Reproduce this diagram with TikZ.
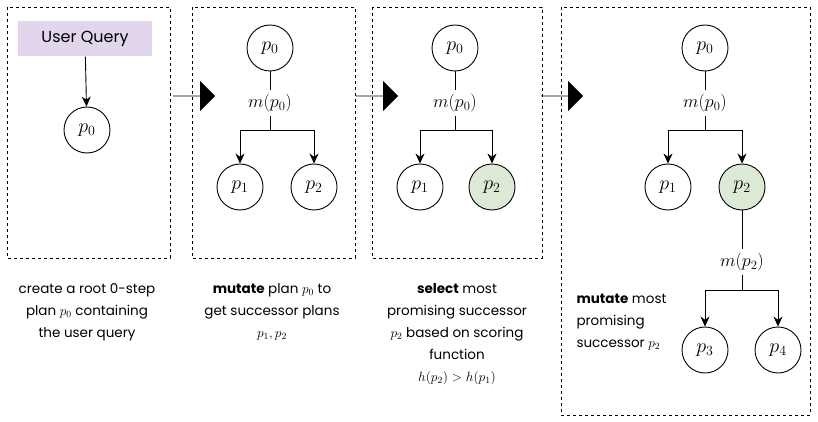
\documentclass[tikz,border=0pt]{standalone}
\usepackage{fix-cm}
\usepackage{fontspec}
\setmainfont{Poppins}
\usetikzlibrary{arrows.meta,shapes.arrows}
\begin{document}
\begin{tikzpicture}[x=1pt,y=-1pt,
  box/.style={draw,dashed,line width=0.8pt},
  pn/.style={circle,draw,line width=0.9pt,minimum size=46pt,inner sep=0pt,font=\fontsize{20}{24}\selectfont},
  arr/.style={-{Stealth[length=10pt,width=9pt]},line width=0.9pt},
  big/.style={single arrow,fill=black,minimum height=42pt,minimum width=30pt,single arrow head extend=8pt,inner sep=0pt},
  lab/.style={font=\fontsize{18}{22}\selectfont},
  txt/.style={font=\fontsize{13.5}{22}\selectfont,align=center}]
\definecolor{grn}{HTML}{DCE9D5}
\definecolor{lav}{HTML}{E2D6EC}
\useasboundingbox (0,0) rectangle (818,422);
\draw[box] (7,7) rectangle (170,258);
\draw[box] (192,7) rectangle (355,258);
\draw[box] (372,7) rectangle (542,258);
\draw[box] (561,7) rectangle (810,415);
% box 1
\node[fill=lav,minimum width=134pt,minimum height=35pt,font=\fontsize{16}{18}\selectfont] (uq) at (85,39) {User Query};
\node[pn] (a0) at (87,130) {$p_0$};
\draw[arr] (uq) -- (a0);
% box 2
\node[pn] (b0) at (270,48) {$p_0$};
\node[lab] (bm) at (270,103) {$m(p_0)$};
\node[pn] (b1) at (240,187) {$p_1$};
\node[pn] (b2) at (314,187) {$p_2$};
\coordinate (bs) at (270,130);
\draw[line width=0.9pt] (b0) -- (bm);
\draw[line width=0.9pt] (bm) -- (bs);
\draw[arr] (bs) -| (b1);
\draw[arr] (bs) -| (b2);
% box 3
\node[pn] (c0) at (455,48) {$p_0$};
\node[lab] (cm) at (455,103) {$m(p_0)$};
\node[pn] (c1) at (420,187) {$p_1$};
\node[pn,fill=grn] (c2) at (492,187) {$p_2$};
\coordinate (cs) at (455,130);
\draw[line width=0.9pt] (c0) -- (cm);
\draw[line width=0.9pt] (cm) -- (cs);
\draw[arr] (cs) -| (c1);
\draw[arr] (cs) -| (c2);
% box 4
\node[pn] (d0) at (705,48) {$p_0$};
\node[lab] (dm) at (705,103) {$m(p_0)$};
\node[pn] (d1) at (668,187) {$p_1$};
\node[pn,fill=grn] (d2) at (742,187) {$p_2$};
\coordinate (ds) at (705,130);
\draw[line width=0.9pt] (d0) -- (dm);
\draw[line width=0.9pt] (dm) -- (ds);
\draw[arr] (ds) -| (d1);
\draw[arr] (ds) -| (d2);
\node[lab] (em) at (742,262) {$m(p_2)$};
\node[pn] (d3) at (705,350) {$p_3$};
\node[pn] (d4) at (778,350) {$p_4$};
\coordinate (es) at (742,290);
\draw[line width=0.9pt] (d2) -- (em);
\draw[line width=0.9pt] (em) -- (es);
\draw[arr] (es) -| (d3);
\draw[arr] (es) -| (d4);
% big arrows
\node[big] (ba1) at (194,96) {};
\node[big] (ba2) at (377,96) {};
\node[big] (ba3) at (562,96) {};
% texts
\node[txt] (t1) at (87,312) {create a root 0-step\\plan $p_0$ containing\\the user query};
\node[txt] (t2) at (272,312) {\textbf{mutate} plan $p_0$ to\\get successor plans\\$p_1, p_2$};
\node[txt] (t3) at (457,334) {\textbf{select} most\\promising successor\\$p_2$ based on scoring\\function\\$h(p_2) > h(p_1)$};
\node[txt,align=left,anchor=west] (t4) at (573,322) {\textbf{mutate} most\\promising\\successor $p_2$};
\end{tikzpicture}
\end{document}
